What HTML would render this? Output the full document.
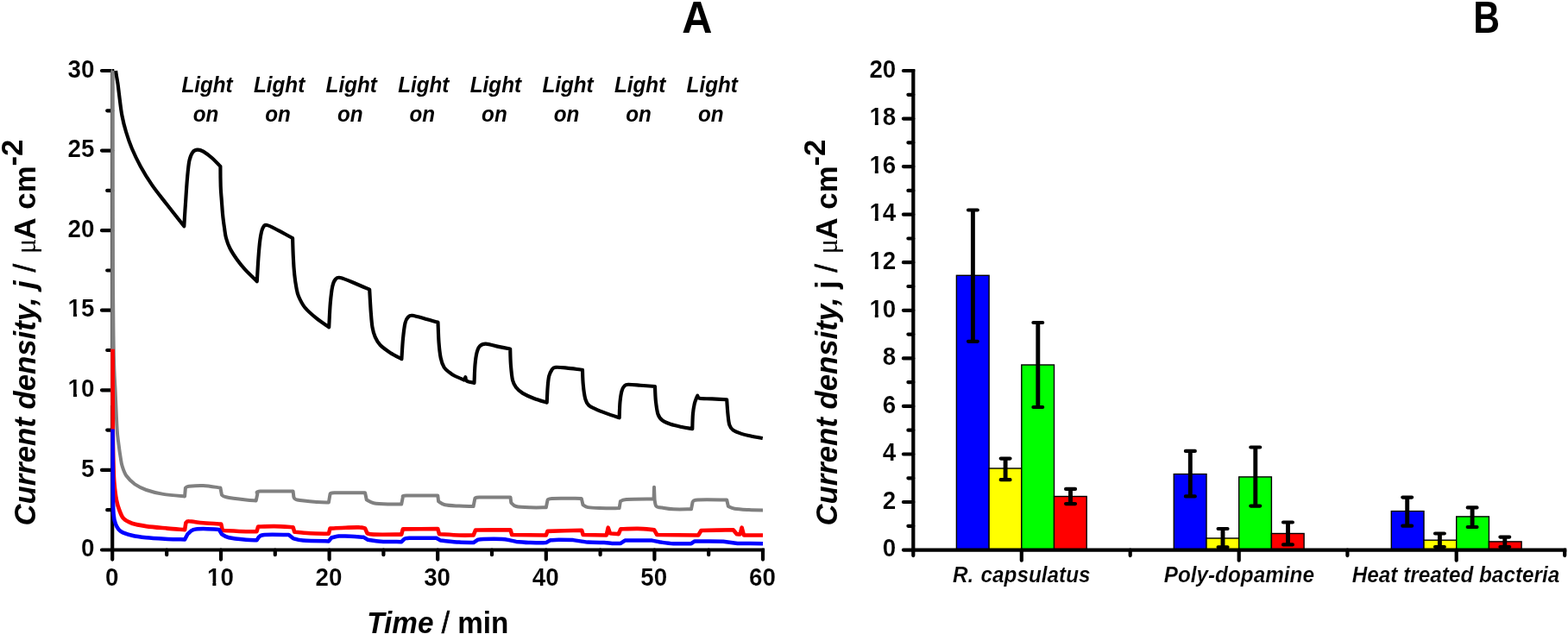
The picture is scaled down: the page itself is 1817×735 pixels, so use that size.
<!DOCTYPE html>
<html lang="en"><head><meta charset="utf-8"><title>Current density figure</title>
<style>html,body{margin:0;padding:0;background:#fff;}body{width:1817px;height:735px;overflow:hidden;}svg{display:block;}text{font-family:"Liberation Sans", sans-serif;fill:#000;font-weight:bold;}.it{font-style:italic;}.th{stroke:#fff;stroke-width:0.17px;}.ax{stroke:#000;stroke-width:4.2;fill:none;stroke-linecap:butt;}.tkm{stroke:#000;stroke-width:4.2;fill:none;stroke-linecap:round;}.bar{stroke:#000;stroke-width:1.4;}.eb{stroke:#000;stroke-width:4.2;fill:none;stroke-linecap:round;}.ebv{stroke:#000;stroke-width:4.9;fill:none;stroke-linecap:butt;}</style></head><body>
<svg width="1817" height="735" viewBox="0 0 1817 735">
<rect x="0" y="0" width="1817" height="735" fill="#fff"/>
<g id="panelA">
<path class="ax" d="M130.2 79.9 V637.5M130.2 637.5 H886.1"/>
<path class="tkm" d="M130.2 637.5 V648.6M118.0 637.5 H130.2M118.0 544.9 H130.2M118.0 452.3 H130.2M118.0 359.7 H130.2M118.0 267.2 H130.2M118.0 174.6 H130.2M118.0 82.0 H130.2M124.2 591.2 H130.2M124.2 498.6 H130.2M124.2 406.0 H130.2M124.2 313.5 H130.2M124.2 220.9 H130.2M124.2 128.3 H130.2M256.0 637.5 V648.6M381.6 637.5 V648.6M507.2 637.5 V648.6M632.8 637.5 V648.6M758.4 637.5 V648.6M884.0 637.5 V648.6M193.2 637.5 V643.2M318.8 637.5 V643.2M444.4 637.5 V643.2M570.0 637.5 V643.2M695.6 637.5 V643.2M821.2 637.5 V643.2"/>
<text transform="translate(109.50 645.20) scale(0.9320 1)" font-size="29.80" text-anchor="end" class="th">0</text>
<text transform="translate(109.50 552.62) scale(0.9320 1)" font-size="29.80" text-anchor="end" class="th">5</text>
<text transform="translate(109.50 460.03) scale(0.9320 1)" font-size="29.80" text-anchor="end" class="th">10</text>
<text transform="translate(109.50 367.44) scale(0.9320 1)" font-size="29.80" text-anchor="end" class="th">15</text>
<text transform="translate(109.50 274.86) scale(0.9320 1)" font-size="29.80" text-anchor="end" class="th">20</text>
<text transform="translate(109.50 182.27) scale(0.9320 1)" font-size="29.80" text-anchor="end" class="th">25</text>
<text transform="translate(109.50 89.69) scale(0.9320 1)" font-size="29.80" text-anchor="end" class="th">30</text>
<text transform="translate(129.80 679.00) scale(0.9320 1)" font-size="29.80" text-anchor="middle" class="th">0</text>
<text transform="translate(255.40 679.00) scale(0.9320 1)" font-size="29.80" text-anchor="middle" class="th">10</text>
<text transform="translate(381.00 679.00) scale(0.9320 1)" font-size="29.80" text-anchor="middle" class="th">20</text>
<text transform="translate(506.60 679.00) scale(0.9320 1)" font-size="29.80" text-anchor="middle" class="th">30</text>
<text transform="translate(632.20 679.00) scale(0.9320 1)" font-size="29.80" text-anchor="middle" class="th">40</text>
<text transform="translate(757.80 679.00) scale(0.9320 1)" font-size="29.80" text-anchor="middle" class="th">50</text>
<text transform="translate(883.40 679.00) scale(0.9320 1)" font-size="29.80" text-anchor="middle" class="th">60</text>
<g fill="#fff"><rect x="79.42" y="456.33" width="5.57" height="4.50"/><rect x="89.00" y="456.33" width="5.20" height="4.50"/><rect x="79.42" y="363.75" width="5.57" height="4.50"/><rect x="89.00" y="363.75" width="5.20" height="4.50"/><rect x="240.77" y="675.30" width="5.57" height="4.50"/><rect x="250.35" y="675.30" width="5.20" height="4.50"/></g>
<path d="M134.1 82.0C134.2 83.0 134.6 85.5 135.0 88.0C135.4 90.5 135.9 93.1 136.5 97.0C137.1 100.9 137.5 105.3 138.3 111.5C139.1 117.7 140.1 127.1 141.4 134.0C142.7 140.9 144.2 146.7 146.1 153.0C148.0 159.3 150.0 165.3 152.8 172.0C155.6 178.7 159.0 185.8 162.9 192.9C166.8 200.0 171.2 207.2 176.1 214.4C181.0 221.6 186.4 228.0 192.6 236.0C198.8 244.0 209.9 257.9 213.3 262.3C213.6 257.3 214.5 242.1 215.2 232.5C215.8 222.9 216.5 212.2 217.2 204.5C217.9 196.8 218.4 191.0 219.4 186.3C220.4 181.6 221.7 178.5 223.3 176.4C224.9 174.3 226.9 173.7 229.0 173.6C231.1 173.5 232.8 174.0 235.6 175.6C238.3 177.2 242.2 180.1 245.5 183.0C248.8 185.9 253.8 191.3 255.4 193.0C255.4 196.8 255.5 209.5 255.7 216.0C255.9 222.5 256.4 226.7 256.8 232.0C257.2 237.3 257.5 242.7 258.0 248.0C258.5 253.3 259.3 259.3 260.0 264.0C260.7 268.7 260.9 272.0 262.0 276.0C263.1 280.0 264.3 283.6 266.4 287.8C268.5 292.0 271.7 296.8 274.7 301.0C277.7 305.2 280.8 309.0 284.6 313.2C288.5 317.4 295.6 324.0 297.8 326.2C298.1 321.7 298.8 307.4 299.4 299.3C300.0 291.2 300.6 283.7 301.4 277.9C302.2 272.1 303.1 267.5 304.4 264.7C305.7 261.9 306.3 260.6 309.3 261.0C312.3 261.4 317.5 264.6 322.5 267.1C327.5 269.6 336.3 274.7 339.1 276.2C339.2 280.1 339.5 292.3 339.9 299.3C340.2 306.3 340.6 312.2 341.2 318.0C341.8 323.8 342.7 329.8 343.5 334.0C344.3 338.2 344.4 339.8 346.0 343.5C347.6 347.2 349.7 352.0 353.1 356.2C356.5 360.4 361.6 364.8 366.3 368.6C371.0 372.5 378.7 377.5 381.2 379.3C381.5 374.6 382.1 359.2 382.8 351.3C383.5 343.4 384.3 336.4 385.3 331.8C386.3 327.2 387.1 325.6 388.6 324.0C390.1 322.4 390.4 321.2 394.4 322.0C398.4 322.8 407.0 326.7 412.6 329.0C418.2 331.3 425.6 334.5 428.2 335.6C428.4 339.6 429.1 352.2 429.6 359.5C430.2 366.8 430.6 374.1 431.5 379.3C432.4 384.5 433.3 387.4 434.8 390.9C436.3 394.3 437.7 397.0 440.6 400.0C443.5 403.0 448.1 406.2 452.2 408.9C456.3 411.6 463.2 415.0 465.4 416.2C465.7 412.3 466.3 399.6 467.0 392.6C467.7 385.6 468.5 378.5 469.5 374.4C470.5 370.3 471.4 369.2 472.8 367.8C474.2 366.4 474.1 365.4 477.8 365.8C481.5 366.2 490.2 369.0 495.1 370.3C500.1 371.6 505.4 373.1 507.5 373.6C507.7 377.4 508.0 389.6 508.5 396.5C509.0 403.4 509.7 410.1 510.7 415.0C511.7 419.9 512.9 423.1 514.7 426.0C516.5 428.9 519.5 430.6 521.5 432.2C523.5 433.8 523.7 434.1 526.4 435.5C529.1 436.9 535.9 439.7 537.8 440.5C538.1 440.0 539.1 437.8 539.4 437.3C539.7 438.0 539.3 440.6 541.0 441.7C542.7 442.8 548.1 443.6 549.5 444.0C549.7 440.5 550.0 428.7 550.5 422.9C551.0 417.1 551.6 412.6 552.5 409.0C553.4 405.4 554.2 402.9 556.0 401.2C557.8 399.5 559.4 398.5 563.0 398.6C566.6 398.7 572.9 400.9 577.6 401.9C582.3 402.9 588.9 404.1 591.2 404.5C591.3 407.6 591.4 416.8 591.9 422.9C592.4 429.0 593.0 436.7 594.1 441.1C595.2 445.5 596.3 446.8 598.2 449.3C600.1 451.8 602.2 453.8 605.7 455.9C609.2 458.0 614.2 460.2 618.9 462.0C623.6 463.8 631.2 465.9 633.7 466.7C633.9 463.8 634.2 454.4 634.6 449.3C635.0 444.2 635.4 439.5 636.2 436.1C637.0 432.7 638.3 430.4 639.5 428.7C640.7 427.0 640.7 426.2 643.6 425.9C646.5 425.5 651.6 426.1 656.8 426.6C662.0 427.1 672.0 428.4 675.0 428.7C675.1 431.6 675.2 440.4 675.8 446.0C676.3 451.6 677.2 458.6 678.3 462.6C679.4 466.6 680.5 468.1 682.4 470.0C684.3 471.9 686.4 472.5 689.9 474.1C693.4 475.7 698.5 477.7 703.1 479.4C707.7 481.1 715.3 483.5 717.7 484.3C717.8 481.2 718.0 471.2 718.5 466.0C719.0 460.8 719.6 456.4 720.5 453.3C721.4 450.2 722.4 448.6 723.6 447.4C724.9 446.1 724.9 445.9 728.0 445.8C731.1 445.7 736.8 446.3 742.0 446.7C747.2 447.1 756.2 447.8 759.0 448.0C759.1 450.8 759.3 459.7 759.9 465.0C760.5 470.3 761.2 476.3 762.4 480.0C763.6 483.7 764.9 485.2 767.3 487.2C769.7 489.2 773.2 490.5 777.0 491.8C780.8 493.1 785.8 494.1 790.0 495.0C794.2 495.9 800.2 496.8 802.3 497.2C802.4 494.4 802.5 485.3 802.9 480.5C803.3 475.7 804.0 471.6 804.7 468.4C805.4 465.2 806.5 462.8 807.1 461.2C807.7 459.6 808.1 459.1 808.3 458.7C808.7 459.2 808.0 461.2 810.8 461.8C813.6 462.4 820.1 462.1 825.3 462.4C830.5 462.6 839.4 463.1 842.2 463.3C842.4 466.2 843.0 475.6 843.5 480.5C844.0 485.4 844.3 489.6 845.3 492.6C846.3 495.6 847.2 497.0 849.5 498.7C851.8 500.4 855.8 501.8 859.2 502.9C862.6 504.0 865.9 504.6 870.0 505.5C874.1 506.4 881.5 507.6 883.8 508.0" fill="none" stroke="#000" stroke-width="4.15" stroke-linejoin="round" stroke-linecap="butt"/>
<path d="M128.75 80.2L128.7 200L128.3 330V470H133L133.5 455L132.3 430L131.5 390L131 330L130.5 200L130.3 80.2Z" fill="#808080"/>
<path d="M130.3 82.0C130.3 101.7 130.4 158.7 130.5 200.0C130.6 241.3 130.8 298.3 131.0 330.0C131.2 361.7 131.3 373.3 131.5 390.0C131.7 406.7 132.0 419.2 132.4 430.0C132.8 440.8 133.2 443.8 133.7 455.0C134.2 466.2 135.0 487.0 135.6 497.0C136.2 507.0 136.8 509.3 137.5 515.0C138.2 520.7 139.1 526.9 139.8 531.0C140.5 535.1 140.4 536.5 141.5 539.9C142.6 543.3 143.9 547.9 146.4 551.5C148.9 555.1 152.5 558.6 156.3 561.4C160.2 564.1 164.0 566.1 169.5 568.0C175.0 569.9 181.9 571.7 189.3 572.9C196.7 574.1 210.0 575.0 214.1 575.4L214.9 565.5C215.6 565.2 215.6 564.2 219.0 563.8C222.4 563.4 229.5 562.7 235.6 563.0C241.7 563.3 252.1 565.1 255.4 565.5L257.0 573.8C257.8 574.2 257.3 575.2 262.0 576.2C266.7 577.2 279.3 578.8 285.1 579.5C290.9 580.2 294.8 580.2 296.7 580.4L298.3 572.9C298.9 572.4 294.7 570.1 301.6 569.6C308.5 569.1 333.3 569.6 339.6 569.6L340.4 576.2C341.1 576.8 340.0 578.5 344.5 579.5C349.0 580.5 361.5 581.5 367.6 582.0C373.7 582.5 378.7 582.4 380.9 582.5L382.5 572.9C383.3 572.6 380.7 571.6 387.5 571.3C394.3 571.0 417.2 571.3 423.1 571.3L424.8 579.5C426.2 580.1 428.9 582.4 433.0 583.2C437.1 584.0 444.1 584.3 449.5 584.5C454.9 584.7 462.6 584.5 465.2 584.5L466.9 576.2C467.6 575.9 464.3 574.9 471.0 574.6C477.7 574.3 501.2 574.6 507.3 574.6L508.1 581.2C509.4 581.9 511.6 584.4 515.6 585.3C519.6 586.2 526.6 586.3 532.1 586.6C537.6 586.9 545.9 586.9 548.6 587.0L550.2 578.7C551.0 578.4 548.3 577.0 555.2 576.6C562.1 576.2 585.5 576.6 591.5 576.6L592.3 582.8C593.3 583.5 594.4 586.1 598.1 587.0C601.8 587.9 608.8 588.1 614.6 588.3C620.4 588.5 629.8 588.3 632.8 588.3L634.4 580.4C635.2 580.0 632.8 578.3 639.4 577.9C646.0 577.5 668.1 577.9 673.8 577.9L675.5 585.3C676.5 585.8 678.1 587.5 681.3 588.1C684.5 588.7 688.5 588.9 694.5 589.1C700.5 589.3 713.8 589.1 717.6 589.1L718.9 581.2C720.1 580.8 719.8 579.5 725.9 579.0C732.0 578.5 750.3 578.5 755.6 578.4C760.9 578.3 757.3 578.4 757.6 578.4L758.0 564.7L758.6 579.5C758.9 580.8 759.1 585.5 760.5 587.0C761.9 588.5 763.8 588.1 767.1 588.6C770.4 589.1 774.6 590.0 780.3 590.3C785.9 590.6 797.5 590.3 801.0 590.3L802.6 582.0C803.6 581.6 801.8 579.9 808.4 579.5C815.0 579.1 836.6 579.5 842.2 579.5L843.9 587.0C845.1 587.5 847.3 589.1 851.3 589.8C855.3 590.5 862.3 590.8 867.8 591.1C873.2 591.4 881.3 591.4 884.0 591.4" fill="none" stroke="#808080" stroke-width="4.0" stroke-linejoin="round"/>
<path d="M130.6 404.8C130.6 420.7 130.7 477.5 130.8 500.0C131.0 522.5 131.2 530.0 131.5 540.0C131.8 550.0 131.8 553.1 132.4 559.7C133.0 566.3 133.9 574.3 134.9 579.5C135.9 584.7 136.8 587.5 138.2 591.1C139.6 594.7 140.6 598.4 143.1 601.0C145.6 603.6 148.6 605.3 153.0 606.8C157.4 608.3 162.6 609.1 169.5 610.1C176.4 611.1 186.9 611.9 194.3 612.6C201.7 613.3 210.8 613.9 214.1 614.2L215.4 606.0C216.0 605.7 215.7 604.2 219.1 604.3C222.5 604.3 229.4 605.8 235.6 606.3C241.8 606.8 252.8 607.4 256.2 607.6L257.9 615.0C262.4 615.2 278.5 616.0 285.1 616.2C291.7 616.4 295.4 616.2 297.5 616.2L299.1 610.6C302.3 610.5 311.4 610.0 318.1 610.1C324.9 610.2 336.0 611.0 339.6 611.2L341.2 616.7C344.2 617.0 352.8 617.9 359.4 618.3C366.0 618.6 377.3 618.7 380.9 618.8L382.5 612.6C385.5 612.5 395.0 611.9 400.7 611.7C406.4 611.5 412.8 611.2 416.5 611.4C420.2 611.5 422.0 612.4 423.1 612.6L425.6 618.3C426.8 618.5 426.4 619.4 433.0 619.6C439.6 619.8 459.8 619.6 465.2 619.6L466.9 613.4C473.6 613.3 500.6 613.1 507.3 613.0L509.0 619.2C512.9 619.4 525.5 620.3 532.1 620.5C538.7 620.7 545.9 620.5 548.6 620.5L551.1 614.5C557.8 614.5 584.8 614.2 591.5 614.2L593.2 620.0C599.8 620.1 626.2 620.4 632.8 620.5L634.4 615.9C641.0 615.7 667.5 614.9 674.1 614.7L675.7 620.0C680.2 620.1 698.2 620.4 702.7 620.5L704.7 611.7L706.9 618.3C708.5 618.4 715.1 619.1 716.8 619.2L719.2 613.4C722.5 613.3 732.6 612.8 739.1 612.9C745.6 613.0 754.9 614.0 758.0 614.2L761.3 620.0C769.3 620.1 801.2 620.4 809.2 620.5L812.5 615.0C818.7 614.9 843.5 614.3 849.7 614.2L853.8 619.2C854.4 619.2 856.9 619.5 857.5 619.5L859.6 611.7L862.0 620.5C865.7 620.5 880.3 620.5 884.0 620.5" fill="none" stroke="#ff0000" stroke-width="4.6" stroke-linejoin="round"/>
<path d="M130.6 497.4C130.7 509.5 130.7 553.6 130.9 570.0C131.1 586.4 131.1 589.7 131.6 596.0C132.1 602.3 132.6 604.3 134.0 607.6C135.4 610.9 136.6 613.7 139.8 615.9C143.0 618.1 148.1 619.6 153.0 620.8C157.9 622.0 162.6 622.6 169.5 623.3C176.4 624.0 186.9 624.5 194.3 624.9C201.7 625.2 210.8 625.3 214.1 625.4L217.4 619.2C218.5 618.4 221.0 615.2 224.0 614.2C227.0 613.2 230.7 613.0 235.6 613.0C240.5 613.0 250.7 613.8 253.7 613.9L257.0 619.2C258.4 619.9 260.6 622.2 265.3 623.3C270.0 624.4 279.7 625.3 285.1 625.8C290.5 626.3 295.4 626.2 297.5 626.3L300.0 622.5C301.1 622.1 300.8 620.4 306.6 620.0C312.4 619.6 329.9 620.0 334.6 620.0L339.6 624.1C341.5 624.5 344.2 626.1 351.1 626.6C358.0 627.1 375.9 627.3 380.9 627.4L384.2 623.3C385.6 623.0 389.8 621.9 392.4 621.6C395.0 621.3 395.1 621.4 400.0 621.6C404.9 621.8 417.9 622.6 421.5 622.8L426.4 625.8C428.9 626.1 434.8 627.3 441.3 627.7C447.8 628.1 461.2 628.1 465.2 628.2L468.5 624.9C469.5 624.7 468.1 624.0 474.3 623.8C480.5 623.6 500.5 623.8 505.7 623.8L510.6 626.6C514.2 626.9 525.8 628.2 532.1 628.6C538.4 629.0 545.9 629.0 548.6 629.1L553.5 625.8C554.6 625.6 555.4 625.0 560.1 624.9C564.8 624.8 576.6 624.7 581.6 624.9C586.6 625.1 588.5 625.9 589.9 626.1L598.1 627.9C600.9 628.1 608.8 628.9 614.6 629.1C620.4 629.3 629.8 629.1 632.8 629.1L637.7 626.3C639.4 626.2 643.2 625.8 647.6 625.8C652.0 625.8 661.4 626.0 664.2 626.1L680.7 628.6C683.9 628.7 695.2 628.9 700.0 629.1C704.8 629.3 706.1 629.8 709.3 629.9C712.5 630.0 717.6 629.9 719.2 629.9L724.2 626.6C729.4 626.6 750.4 626.6 755.6 626.6L765.5 628.6C768.0 628.9 774.4 629.9 780.3 630.2C786.2 630.5 797.5 630.2 801.0 630.2L805.1 627.4C810.6 627.5 832.6 627.7 838.1 627.7L854.6 629.9C859.5 630.0 879.1 630.2 884.0 630.2" fill="none" stroke="#0000ff" stroke-width="4.5" stroke-linejoin="round"/>
<text transform="translate(240.00 106.70) scale(0.9700 1)" font-size="25.00" text-anchor="middle" class="it">Light</text>
<text transform="translate(238.50 141.00) scale(0.9700 1)" font-size="25.00" text-anchor="middle" class="it">on</text>
<text transform="translate(323.60 106.70) scale(0.9700 1)" font-size="25.00" text-anchor="middle" class="it">Light</text>
<text transform="translate(322.10 141.00) scale(0.9700 1)" font-size="25.00" text-anchor="middle" class="it">on</text>
<text transform="translate(407.20 106.70) scale(0.9700 1)" font-size="25.00" text-anchor="middle" class="it">Light</text>
<text transform="translate(405.70 141.00) scale(0.9700 1)" font-size="25.00" text-anchor="middle" class="it">on</text>
<text transform="translate(490.80 106.70) scale(0.9700 1)" font-size="25.00" text-anchor="middle" class="it">Light</text>
<text transform="translate(489.30 141.00) scale(0.9700 1)" font-size="25.00" text-anchor="middle" class="it">on</text>
<text transform="translate(574.40 106.70) scale(0.9700 1)" font-size="25.00" text-anchor="middle" class="it">Light</text>
<text transform="translate(572.90 141.00) scale(0.9700 1)" font-size="25.00" text-anchor="middle" class="it">on</text>
<text transform="translate(658.00 106.70) scale(0.9700 1)" font-size="25.00" text-anchor="middle" class="it">Light</text>
<text transform="translate(656.50 141.00) scale(0.9700 1)" font-size="25.00" text-anchor="middle" class="it">on</text>
<text transform="translate(741.60 106.70) scale(0.9700 1)" font-size="25.00" text-anchor="middle" class="it">Light</text>
<text transform="translate(740.10 141.00) scale(0.9700 1)" font-size="25.00" text-anchor="middle" class="it">on</text>
<text transform="translate(825.20 106.70) scale(0.9700 1)" font-size="25.00" text-anchor="middle" class="it">Light</text>
<text transform="translate(823.70 141.00) scale(0.9700 1)" font-size="25.00" text-anchor="middle" class="it">on</text>
<text transform="translate(40.50 609.50) rotate(-90) scale(0.9780 1)" font-size="35.50" text-anchor="start"><tspan class="it">Current density, j</tspan> <tspan font-style="normal" font-weight="normal" stroke="#000" stroke-width="0.7">/</tspan> <tspan font-family="&quot;Liberation Serif&quot;, &quot;DejaVu Serif&quot;, serif" font-weight="normal" font-style="normal" font-size="33.5" dx="2.0">μ</tspan><tspan dx="-0.6">A</tspan> cm<tspan dy="-14.5">-2</tspan></text>
<text transform="translate(425.30 733.60) scale(0.9680 1)" font-size="34.40" text-anchor="start"><tspan class="it">Time</tspan> <tspan font-style="normal" font-weight="normal" stroke="#000" stroke-width="0.7">/</tspan> min</text>
<text transform="translate(807.75 38.10) scale(0.9300 1)" font-size="52.40" text-anchor="middle">A</text>
</g>
<g id="panelB">
<rect class="bar" x="1108.4" y="319.3" width="37.7" height="318.3" fill="#0000ff"/>
<rect class="bar" x="1146.1" y="543.0" width="37.7" height="94.6" fill="#ffff00"/>
<rect class="bar" x="1183.8" y="423.0" width="37.7" height="214.6" fill="#00ff00"/>
<rect class="bar" x="1221.5" y="575.5" width="37.7" height="62.1" fill="#ff0000"/>
<rect class="bar" x="1360.3" y="549.6" width="37.7" height="88.0" fill="#0000ff"/>
<rect class="bar" x="1398.0" y="624.0" width="37.7" height="13.6" fill="#ffff00"/>
<rect class="bar" x="1435.7" y="552.9" width="37.7" height="84.7" fill="#00ff00"/>
<rect class="bar" x="1473.4" y="618.5" width="37.7" height="19.1" fill="#ff0000"/>
<rect class="bar" x="1612.3" y="592.6" width="37.7" height="45.0" fill="#0000ff"/>
<rect class="bar" x="1650.0" y="626.2" width="37.7" height="11.4" fill="#ffff00"/>
<rect class="bar" x="1687.7" y="598.9" width="37.7" height="38.7" fill="#00ff00"/>
<rect class="bar" x="1725.4" y="627.9" width="37.7" height="9.7" fill="#ff0000"/>
<path class="ebv" d="M1127.4 243.5 V395.8M1165.1 531.6 V556.2M1202.8 374.0 V472.0M1240.5 566.9 V584.1M1379.3 522.9 V575.4M1417.0 613.0 V634.3M1454.8 518.5 V586.6M1492.5 605.5 V631.4M1630.7 576.6 V609.7M1668.4 618.5 V634.0M1706.1 588.4 V611.0M1743.8 622.6 V634.0"/>
<path class="eb" d="M1122.0 243.5 H1132.8 M1122.0 395.8 H1132.8M1159.7 531.6 H1170.5 M1159.7 556.2 H1170.5M1197.4 374.0 H1208.2 M1197.4 472.0 H1208.2M1235.1 566.9 H1246.0 M1235.1 584.1 H1246.0M1373.9 522.9 H1384.8 M1373.9 575.4 H1384.8M1411.6 613.0 H1422.5 M1411.6 634.3 H1422.5M1449.3 518.5 H1460.2 M1449.3 586.6 H1460.2M1487.0 605.5 H1497.9 M1487.0 631.4 H1497.9M1625.3 576.6 H1636.1 M1625.3 609.7 H1636.1M1663.0 618.5 H1673.8 M1663.0 634.0 H1673.8M1700.7 588.4 H1711.5 M1700.7 611.0 H1711.5M1738.4 622.6 H1749.2 M1738.4 634.0 H1749.2"/>
<path class="ax" d="M1058.3 79.9 V637.6M1058.3 637.6 H1815.3"/>
<path class="tkm" d="M1058.3 637.6 V644.1M1046.9 637.6 H1058.3M1046.9 582.0 H1058.3M1046.9 526.5 H1058.3M1046.9 470.9 H1058.3M1046.9 415.4 H1058.3M1046.9 359.8 H1058.3M1046.9 304.2 H1058.3M1046.9 248.7 H1058.3M1046.9 193.1 H1058.3M1046.9 137.6 H1058.3M1046.9 82.0 H1058.3M1052.4 609.8 H1058.3M1052.4 554.3 H1058.3M1052.4 498.7 H1058.3M1052.4 443.1 H1058.3M1052.4 387.6 H1058.3M1052.4 332.0 H1058.3M1052.4 276.5 H1058.3M1052.4 220.9 H1058.3M1052.4 165.3 H1058.3M1052.4 109.8 H1058.3M1183.8 637.6 V649.7M1435.7 637.6 V649.7M1687.7 637.6 V649.7M1309.7 637.6 V644.1M1561.4 637.6 V644.1M1813.2 637.6 V644.1"/>
<text transform="translate(1038.30 645.30) scale(0.9320 1)" font-size="29.80" text-anchor="end" class="th">0</text>
<text transform="translate(1038.30 589.74) scale(0.9320 1)" font-size="29.80" text-anchor="end" class="th">2</text>
<text transform="translate(1038.30 534.18) scale(0.9320 1)" font-size="29.80" text-anchor="end" class="th">4</text>
<text transform="translate(1038.30 478.62) scale(0.9320 1)" font-size="29.80" text-anchor="end" class="th">6</text>
<text transform="translate(1038.30 423.06) scale(0.9320 1)" font-size="29.80" text-anchor="end" class="th">8</text>
<text transform="translate(1038.30 367.50) scale(0.9320 1)" font-size="29.80" text-anchor="end" class="th">10</text>
<text transform="translate(1038.30 311.94) scale(0.9320 1)" font-size="29.80" text-anchor="end" class="th">12</text>
<text transform="translate(1038.30 256.38) scale(0.9320 1)" font-size="29.80" text-anchor="end" class="th">14</text>
<text transform="translate(1038.30 200.82) scale(0.9320 1)" font-size="29.80" text-anchor="end" class="th">16</text>
<text transform="translate(1038.30 145.26) scale(0.9320 1)" font-size="29.80" text-anchor="end" class="th">18</text>
<text transform="translate(1038.30 89.70) scale(0.9320 1)" font-size="29.80" text-anchor="end" class="th">20</text>
<g fill="#fff"><rect x="1008.22" y="363.80" width="5.57" height="4.50"/><rect x="1017.80" y="363.80" width="5.20" height="4.50"/><rect x="1008.22" y="308.24" width="5.57" height="4.50"/><rect x="1017.80" y="308.24" width="5.20" height="4.50"/><rect x="1008.22" y="252.68" width="5.57" height="4.50"/><rect x="1017.80" y="252.68" width="5.20" height="4.50"/><rect x="1008.22" y="197.12" width="5.57" height="4.50"/><rect x="1017.80" y="197.12" width="5.20" height="4.50"/><rect x="1008.22" y="141.56" width="5.57" height="4.50"/><rect x="1017.80" y="141.56" width="5.20" height="4.50"/></g>
<text transform="translate(1104.00 675.30) scale(0.9730 1)" font-size="25.00" text-anchor="start" class="it th">R. <tspan dx="1.5">capsulatus</tspan></text>
<text transform="translate(1435.80 675.30) scale(0.9730 1)" font-size="25.00" text-anchor="middle" class="it th">Poly-dopamine</text>
<text transform="translate(1687.00 675.30) scale(0.9730 1)" font-size="25.00" text-anchor="middle" class="it th">Heat treated bacteria</text>
<text transform="translate(970.30 609.50) rotate(-90) scale(0.9780 1)" font-size="35.50" text-anchor="start"><tspan class="it">Current density,</tspan> j <tspan font-style="normal" font-weight="normal" stroke="#000" stroke-width="0.7">/</tspan> <tspan font-family="&quot;Liberation Serif&quot;, &quot;DejaVu Serif&quot;, serif" font-weight="normal" font-style="normal" font-size="33.5" dx="2.0">μ</tspan><tspan dx="-0.6">A</tspan> cm<tspan dy="-14.5">-2</tspan></text>
<text transform="translate(1722.70 38.10) scale(0.8150 1)" font-size="52.20" text-anchor="middle">B</text>
</g>
</svg></body></html>
